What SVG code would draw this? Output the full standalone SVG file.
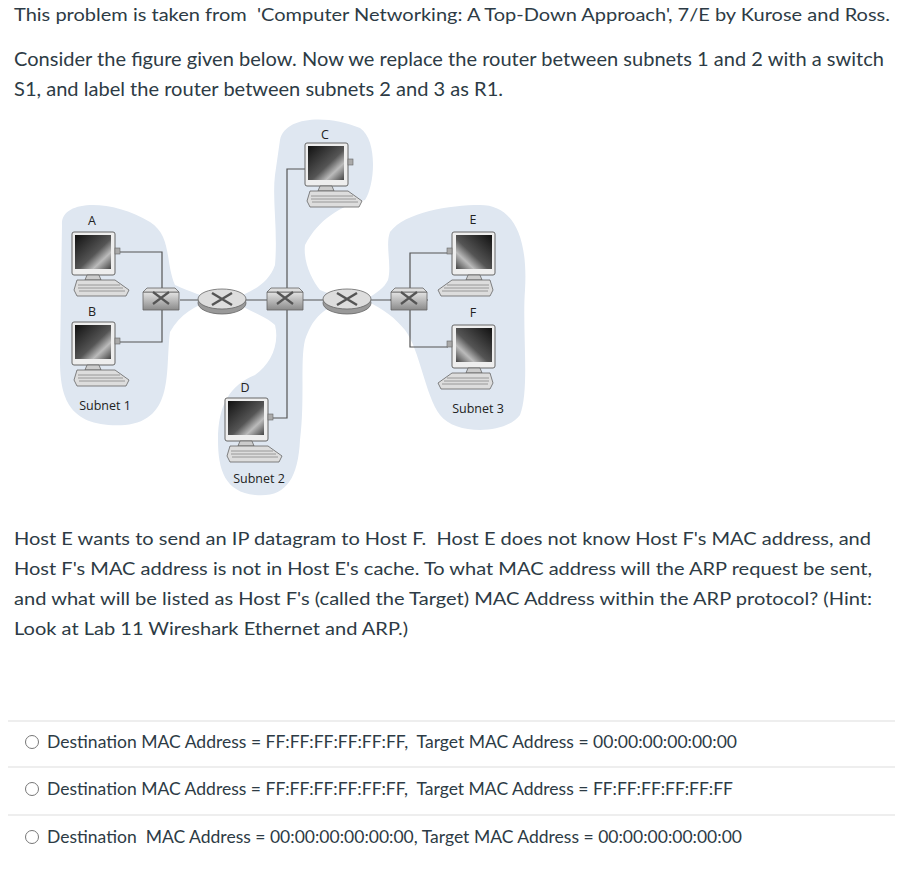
<svg xmlns="http://www.w3.org/2000/svg" width="909" height="874" viewBox="0 0 909 874" xml:space="preserve">
<style>
.t{font-family:Lato,"Liberation Sans",sans-serif;fill:#2d3b45;white-space:pre}
.lb{font-family:"Open Sans","Liberation Sans",sans-serif;font-size:12.5px;fill:#222}
.blob{fill:#dfe7f1}
.ln{stroke:#555;stroke-width:1.2;fill:none}
.sep{stroke:#ddd;stroke-width:1}
.rad{fill:#fff;stroke:#777;stroke-width:1}
</style>
<defs>
<linearGradient id="scr" x1="0" y1="0" x2="1" y2="1">
<stop offset="0" stop-color="#111"/><stop offset="0.55" stop-color="#555"/><stop offset="0.75" stop-color="#bbb"/><stop offset="1" stop-color="#444"/>
</linearGradient>
<linearGradient id="dev" x1="0" y1="0" x2="0" y2="1">
<stop offset="0" stop-color="#e4e4e4"/><stop offset="1" stop-color="#8a8a8a"/>
</linearGradient>
<g id="pc">
<rect x="0" y="0" width="43" height="43" rx="2" fill="#eee" stroke="#666" stroke-width="1"/>
<rect x="3" y="3" width="36" height="34" fill="url(#scr)"/>
<path d="M15 43h12l2 5h-16z" fill="#ccc" stroke="#666" stroke-width="0.8"/>
<path d="M5 48h38l14 10-3 6h-49l-3-6z" fill="#ddd" stroke="#666" stroke-width="0.8"/>
<path d="M6 53h42M6 56h45M7 59h46" stroke="#888" stroke-width="0.8"/>
<rect x="43" y="16" width="5" height="6" fill="#aaa" stroke="#666" stroke-width="0.6"/>
</g>
<g id="sw">
<path d="M0 4h36v18h-36z" fill="url(#dev)" stroke="#666" stroke-width="0.8"/>
<path d="M0 4l4-4h28l4 4z" fill="#ddd" stroke="#666" stroke-width="0.8"/>
<path d="M10 4l16 12M26 4l-16 12" stroke="#555" stroke-width="2.2"/>
</g>
<g id="rt">
<ellipse cx="0" cy="4" rx="24" ry="11" fill="#999" stroke="#666" stroke-width="0.8"/>
<ellipse cx="0" cy="0" rx="24" ry="10" fill="#ddd" stroke="#666" stroke-width="0.8"/>
<path d="M-10 -6l20 12M10 -6l-20 12" stroke="#555" stroke-width="2.5"/>
</g>
</defs>
<rect width="909" height="874" fill="#fff"/>
<text class="t" x="14" y="21" font-size="17" textLength="876" lengthAdjust="spacingAndGlyphs">This problem is taken from  'Computer Networking: A Top-Down Approach', 7/E by Kurose and Ross.</text>
<text class="t" x="14" y="66" font-size="19" textLength="870" lengthAdjust="spacingAndGlyphs">Consider the figure given below. Now we replace the router between subnets 1 and 2 with a switch</text>
<text class="t" x="14" y="96" font-size="19" textLength="489" lengthAdjust="spacingAndGlyphs">S1, and label the router between subnets 2 and 3 as R1.</text>

<g id="blobs">
<path class="blob" d="M62 225C60 200 110 198 150 222C172 236 165 262 175 285C190 292 205 296 212 300C195 306 180 314 170 332C165 370 175 420 125 425C70 428 60 400 60 360Z"/>
<path class="blob" d="M280 140C285 115 330 115 360 128C378 140 375 185 365 200C340 206 318 220 305 245C303 262 312 280 320 290L345 300C320 310 312 320 305 340C300 360 305 400 300 440C298 480 285 498 255 495C225 492 218 470 218 440C218 405 230 385 255 375C270 365 280 345 275 325C265 315 245 310 232 300C250 292 268 285 275 265C278 230 272 200 275 175Z"/>
<path class="blob" d="M390 232C405 212 450 205 480 205C515 205 528 240 525 290C522 330 530 390 520 415C505 435 455 435 440 415C425 395 420 350 405 330C395 318 385 310 365 300C378 292 384 288 388 280C392 265 385 245 390 232Z"/>
</g>

<g id="connectors">
<path class="ln" d="M117 252H162V342H117"/>
<path class="ln" d="M180 300H400"/>
<path class="ln" d="M348 169H287V418H268"/>
<path class="ln" d="M448 253H410V347H448"/>
<path class="ln" d="M390 300H428"/>
</g>

<g id="host-A"><use href="#pc" x="72" y="232"/><text class="lb" x="92" y="225" text-anchor="middle">A</text></g>
<g id="host-B"><use href="#pc" x="72" y="322"/><text class="lb" x="92" y="316" text-anchor="middle">B</text></g>
<g id="host-C"><use href="#pc" x="305" y="143"/><text class="lb" x="325" y="139" text-anchor="middle">C</text></g>
<g id="host-D"><use href="#pc" x="225" y="398"/><text class="lb" x="245" y="392" text-anchor="middle">D</text></g>
<g id="host-E"><g transform="translate(495,232) scale(-1,1)"><use href="#pc"/></g><text class="lb" x="473" y="224" text-anchor="middle">E</text></g>
<g id="host-F"><g transform="translate(495,325) scale(-1,1)"><use href="#pc"/></g><text class="lb" x="473" y="317" text-anchor="middle">F</text></g>
<g id="switch-1"><use href="#sw" x="143" y="288"/></g>
<g id="router-1"><use href="#rt" x="222" y="299"/></g>
<g id="switch-2"><use href="#sw" x="267" y="288"/></g>
<g id="router-2"><use href="#rt" x="347" y="299"/></g>
<g id="switch-3"><use href="#sw" x="391" y="288"/></g>
<text class="lb" x="105" y="410" text-anchor="middle">Subnet 1</text>
<text class="lb" x="259" y="483" text-anchor="middle">Subnet 2</text>
<text class="lb" x="478" y="413" text-anchor="middle">Subnet 3</text>

<text class="t" x="14" y="545" font-size="17.5" textLength="857" lengthAdjust="spacingAndGlyphs">Host E wants to send an IP datagram to Host F.  Host E does not know Host F's MAC address, and</text>
<text class="t" x="14" y="575" font-size="17.5" textLength="858" lengthAdjust="spacingAndGlyphs">Host F's MAC address is not in Host E's cache. To what MAC address will the ARP request be sent,</text>
<text class="t" x="14" y="605" font-size="17.5" textLength="858" lengthAdjust="spacingAndGlyphs">and what will be listed as Host F's (called the Target) MAC Address within the ARP protocol? (Hint:</text>
<text class="t" x="14" y="635" font-size="17.5" textLength="394" lengthAdjust="spacingAndGlyphs">Look at Lab 11 Wireshark Ethernet and ARP.)</text>

<line class="sep" x1="8" y1="721" x2="895" y2="721"/>
<line class="sep" x1="8" y1="767" x2="895" y2="767"/>
<line class="sep" x1="8" y1="815" x2="895" y2="815"/>
<circle class="rad" cx="32" cy="742" r="6.5"/>
<circle class="rad" cx="32" cy="789" r="6.5"/>
<circle class="rad" cx="32" cy="837" r="6.5"/>
<text class="t" x="47" y="748" font-size="16.5" textLength="690" lengthAdjust="spacingAndGlyphs">Destination MAC Address = FF:FF:FF:FF:FF:FF,  Target MAC Address = 00:00:00:00:00:00</text>
<text class="t" x="47" y="795" font-size="16.5" textLength="686" lengthAdjust="spacingAndGlyphs">Destination MAC Address = FF:FF:FF:FF:FF:FF,  Target MAC Address = FF:FF:FF:FF:FF:FF</text>
<text class="t" x="47" y="843" font-size="16.5" textLength="695" lengthAdjust="spacingAndGlyphs">Destination  MAC Address = 00:00:00:00:00:00, Target MAC Address = 00:00:00:00:00:00</text>
</svg>
